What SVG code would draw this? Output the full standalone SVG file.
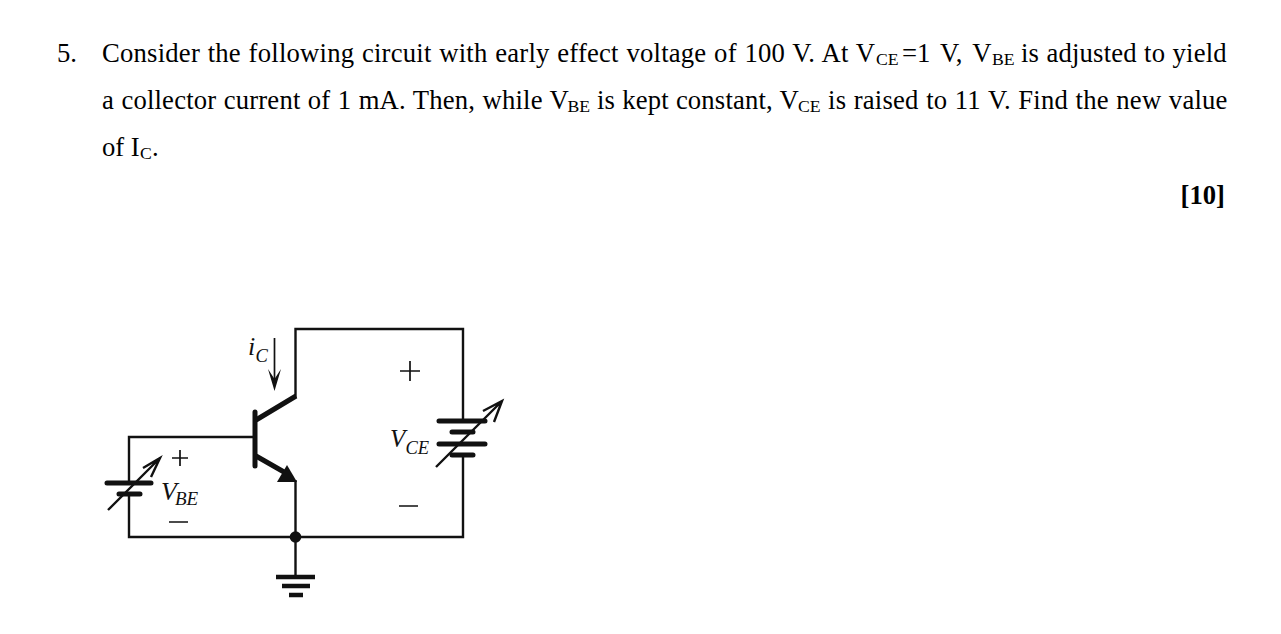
<svg xmlns="http://www.w3.org/2000/svg" width="1281" height="634" viewBox="0 0 1281 634">
<style>
.t{font-family:"Liberation Serif",serif;font-size:26.67px;fill:#000}
.s{font-size:17.7px;letter-spacing:0;word-spacing:0}
.b{font-weight:bold}
.i{font-family:"Liberation Serif",serif;font-style:italic;fill:#111}
.w{fill:none;stroke:#111;stroke-width:2.4}
.thick{fill:none;stroke:#111;stroke-width:5;stroke-linecap:round}
.pl{fill:#111;stroke:none}
.thin{fill:none;stroke:#111;stroke-width:1.7}
.ar{fill:none;stroke:#111;stroke-width:2.4}
</style>
<rect width="1281" height="634" fill="#fff"/>
<g id="question">
<text class="t" x="57" y="62">5.</text>
<text class="t" y="62"><tspan x="102" word-spacing="0.8" letter-spacing="0.22">Consider the following circuit with early effect voltage of 100 V. At V</tspan><tspan class="s" x="876" y="65">CE</tspan><tspan x="902" y="62" word-spacing="3.5">=1 V, V</tspan><tspan class="s" x="992" y="65">BE</tspan><tspan x="1021" y="62" word-spacing="0.5" letter-spacing="0.18">is adjusted to yield</tspan></text>
<text class="t" y="109"><tspan x="102" word-spacing="0.5" letter-spacing="0.19">a collector current of 1 mA. Then, while V</tspan><tspan class="s" x="567.5" y="112">BE</tspan><tspan x="597" y="109" word-spacing="0.3" letter-spacing="0.16">is kept constant, V</tspan><tspan class="s" x="798" y="112">CE</tspan><tspan x="828" y="109" word-spacing="0.6" letter-spacing="0.22">is raised to 11 V. Find the new value</tspan></text>
<text class="t" y="156"><tspan x="102">of I</tspan><tspan class="s" x="140" y="159">C</tspan><tspan x="152" y="156">.</tspan></text>
<text class="t b" x="1225" y="204" text-anchor="end">[10]</text>
</g>
<g id="connectors">
<path class="w" d="M295.500 398V329H463V421M463 455V537H129V494M129 483V437H254M295.500 480V577"/>
</g>
<g id="transistor">
<path class="thick" d="M255 412V466"/>
<path fill="none" stroke="#111" stroke-width="5" d="M256 420L296 396M256 456L284 472"/>
<path class="pl" d="M277 482L287 465L297 482Z"/>
</g>
<g id="junction"><circle class="pl" cx="295.500" cy="537" r="5.800"/></g>
<g id="ground">
<path fill="none" stroke="#111" stroke-width="4.500" d="M276 577H315M282 586H310M289 595H303"/>
</g>
<g id="vbe-source">
<path class="thick" d="M107 483H151M119 494H140"/>
<path class="ar" d="M108 510L160 458M143 468L160 458L151 477"/>
</g>
<g id="vce-source">
<path class="thick" d="M439 421H485M452 432H473M439 444H485M452 455H473"/>
<path class="ar" d="M436 467L502 401M483 411L502 401L494 422"/>
</g>
<g id="ic-arrow"><path class="thin" d="M274.500 338V385" stroke-width="2"/><path class="pl" d="M274.500 391L268 369L274.500 379L281 369Z"/></g>
<g id="labels">
<text class="i" x="248" y="355" font-size="26">i</text>
<text class="i" x="255.500" y="362" font-size="18.500">C</text>
<path class="thin" d="M172 458H188M180 450V466M169 522H188M400 371H420M410 361V381M399 506H418"/>
<text class="i" x="161" y="500" font-size="26">V</text>
<text class="i" x="175" y="505" font-size="19">BE</text>
<text class="i" x="390" y="447" font-size="25">V</text>
<text class="i" x="405.500" y="454" font-size="18.500">CE</text>
</g>
</svg>
